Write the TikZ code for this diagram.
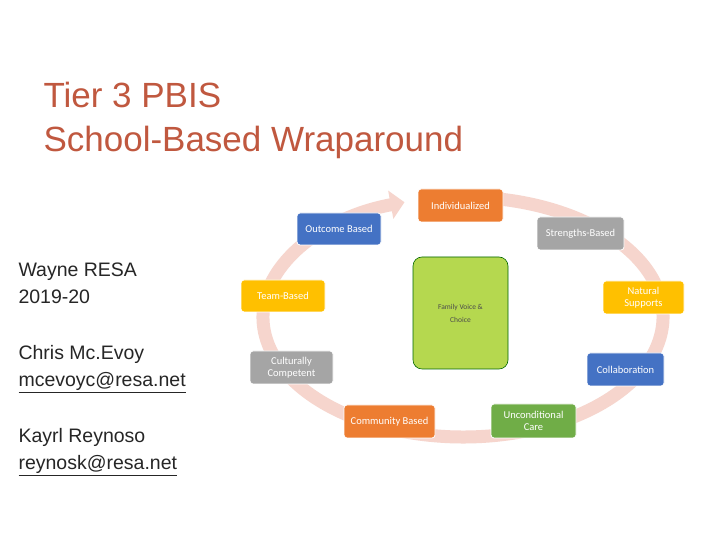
\documentclass[tikz,border=0pt]{standalone}
\usepackage{fontspec}
\setmainfont{Liberation Sans}
\newfontfamily\calfont{Carlito}
\usetikzlibrary{arrows.meta}
\definecolor{ttl}{HTML}{C0583F}
\definecolor{ring}{HTML}{F6D5CD}
\definecolor{oran}{HTML}{ED7D31}
\definecolor{blu}{HTML}{4472C4}
\definecolor{gry}{HTML}{A5A5A5}
\definecolor{gold}{HTML}{FFC000}
\definecolor{grn}{HTML}{70AD47}
\definecolor{lgrn}{HTML}{B5D84F}
\begin{document}
\begin{tikzpicture}[x=1pt,y=1pt,
 box/.style={rounded corners=3pt,draw=white,line width=0.8pt,text=white,font=\calfont\fontsize{10.5}{11.5}\selectfont,align=center,inner sep=0pt},
 side/.style={anchor=base west,text=black!85,font=\fontsize{19.5}{21}\selectfont}]
\useasboundingbox (0,0) rectangle (720,540);
\fill[white] (0,0) rectangle (720,540);
\node[anchor=base west,text=ttl,font=\fontsize{35}{38}\selectfont] (t1) at (40,432) {Tier 3 PBIS};
\node[anchor=base west,text=ttl,font=\fontsize{35}{38}\selectfont] (t2) at (40,388) {School-Based Wraparound};
\node[side] (s1) at (15,263) {Wayne RESA};
\node[side] (s2) at (15,236) {2019-20};
\node[side] (s3) at (15,180) {Chris Mc.Evoy};
\node[side] (s4) at (15,153) {\underline{mcevoyc@resa.net}};
\node[side] (s5) at (15,97) {Kayrl Reynoso};
\node[side] (s6) at (15,70) {\underline{reynosk@resa.net}};
\draw[ring,line width=13pt,-{Triangle[width=28pt,length=14pt]}] (463,223) ++(80:200 and 120) arc[start angle=80,end angle=-253,x radius=200,y radius=120];
\node[box,fill=oran,minimum width=85pt,minimum height=33pt] (a) at (460.5,334.5) {Individualized};
\node[box,fill=blu,minimum width=84pt,minimum height=32pt] (b) at (339,311) {Outcome Based};
\node[box,fill=gry,minimum width=87pt,minimum height=33pt] (c) at (580.5,306.5) {Strengths-Based};
\node[box,fill=gold,minimum width=84pt,minimum height=32pt] (d) at (283,244) {Team-Based};
\node[box,fill=gold,minimum width=81pt,minimum height=33pt] (e) at (643.5,242.5) {Natural\\Supports};
\node[box,fill=blu,minimum width=77pt,minimum height=33pt] (f) at (625.5,170.5) {Collaboration};
\node[box,fill=gry,minimum width=83pt,minimum height=33pt] (g) at (291.5,172.5) {Culturally\\Competent};
\node[box,fill=oran,minimum width=91pt,minimum height=33pt] (h) at (389.5,118.5) {Community Based};
\node[box,fill=grn,minimum width=85pt,minimum height=34pt] (i) at (533.5,119) {Unconditional\\Care};
\node[rounded corners=9pt,draw=black!60!green,line width=0.6pt,fill=lgrn,minimum width=95pt,minimum height=112pt,align=center,inner sep=0pt,font=\calfont\fontsize{7.5}{13}\selectfont,text=black!70] (m) at (460.5,227) {Family Voice \&\\Choice};
\end{tikzpicture}
\end{document}
